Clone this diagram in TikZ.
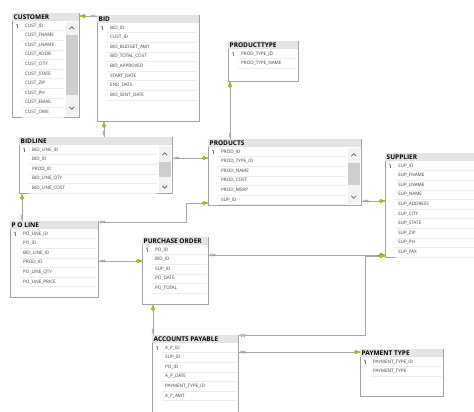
\documentclass[tikz,border=0pt]{standalone}
\usepackage{fontspec}
\setmainfont{Open Sans}
\usepackage{tikz}
\usetikzlibrary{decorations.markings, calc}

\definecolor{tblcol}{HTML}{A3A3A3}
\definecolor{headcol}{HTML}{E4E4E4}
\definecolor{rowcol}{HTML}{3C3C3C}
\definecolor{pkcol}{HTML}{7A7A6A}
\definecolor{sepcol}{HTML}{EDEDED}
\definecolor{relcol}{HTML}{A6A6A6}
\definecolor{keycol}{HTML}{C9C41A}
\definecolor{keydark}{HTML}{8E8A12}
\definecolor{manycol}{HTML}{8A8A8A}
\definecolor{thumbcol}{HTML}{CDCDCD}
\definecolor{trackcol}{HTML}{F3F3F3}

\begin{document}
\begin{tikzpicture}[x=1pt, y=-1pt,
    tbl/.style={draw=tblcol, line width=0.8pt, fill=white, anchor=north west, inner sep=0pt},
    tblhead/.style={anchor=base west, inner sep=0pt, font=\fontsize{6.5}{7}\selectfont\bfseries},
    tblrow/.style={anchor=west, inner sep=0pt, text=rowcol, font=\fontsize{4.6}{5}\selectfont},
    rowline/.style={draw=sepcol, line width=0.4pt},
    headbar/.style={fill=headcol},
    thumb/.style={fill=thumbcol},
    track/.style={fill=trackcol},
    chevron/.style={draw=rowcol, line width=0.5pt},
    rel/.style={draw=relcol, line width=0.9pt, postaction={decorate}, decoration={markings,
        mark=at position 4pt with {\fill[keycol] (-3.6pt,-0.8pt) rectangle (0pt,0.8pt);
          \filldraw[fill=keycol, draw=keydark, line width=0.3pt] (0pt,0pt) circle (1.9pt);},
        mark=at position -4pt with {\filldraw[fill=white, draw=manycol, line width=0.45pt]
          (-1.25pt,0pt) circle (1.15pt) (1.25pt,0pt) circle (1.15pt);}}},
    pics/pkey/.style={code={\draw[pkcol, line width=0.3pt] (0pt,1.2pt) circle (0.55pt);
        \draw[pkcol, line width=0.3pt] (0pt,0.65pt) -- (0pt,-1.5pt) (0pt,-1pt) -- (0.6pt,-1pt);}}
  ]
  \useasboundingbox (0,0) rectangle (474,412);

  % tables
  \node[tbl, minimum width=67pt, minimum height=104pt] (customer) at (12,13) {};
  \fill[headbar] ([shift={(0.4,0.4)}]customer.north west) rectangle ([shift={(-0.4,8)}]customer.north east);
  \node[tblhead] (customerhead) at ([shift={(1.5,6.5)}]customer.north west) {CUSTOMER};
  \pic at ([shift={(5,12.8)}]customer.north west) {pkey};
  \foreach \r [count=\i] in {CUST\_ID, CUST\_FNAME, CUST\_LNAME, CUST\_ADDR, CUST\_CITY,
      CUST\_STATE, CUST\_ZIP, CUST\_PH, CUST\_EMAIL, CUST\_OWE} {
    \node[tblrow] (customer\i) at ([shift={(13,{3.2+9.6*\i})}]customer.north west) {\r};
    \draw[rowline] ([shift={(10,{8+9.6*\i})}]customer.north west) -- ++(42,0);
  }
  \fill[track] ([shift={(-14,9)}]customer.north east) rectangle ++(12,94);
  \fill[thumb] ([shift={(-14,22)}]customer.north east) rectangle ++(12,60);
  \draw[chevron] ([shift={(-10.5,16.2)}]customer.north east) -- ++(2.5,-2.5) -- ++(2.5,2.5);
  \draw[chevron] ([shift={(-10.5,93.8)}]customer.north east) -- ++(2.5,2.5) -- ++(2.5,-2.5);

  \node[tbl, minimum width=102pt, minimum height=106pt] (bid) at (97,15) {};
  \fill[headbar] ([shift={(0.4,0.4)}]bid.north west) rectangle ([shift={(-0.4,8)}]bid.north east);
  \node[tblhead] (bidhead) at ([shift={(1.5,6.5)}]bid.north west) {BID};
  \pic at ([shift={(5,12.8)}]bid.north west) {pkey};
  \foreach \r [count=\i] in {BID\_ID, CUST\_ID, BID\_BUDGET\_AMT, BID\_TOTAL\_COST,
      BID\_APPROVED, START\_DATE, END\_DATE, BID\_SENT\_DATE} {
    \node[tblrow] (bid\i) at ([shift={(13,{3.2+9.6*\i})}]bid.north west) {\r};
    \draw[rowline] ([shift={(10,{8+9.6*\i})}]bid.north west) -- ++(90,0);
  }

  \node[tbl, minimum width=70pt, minimum height=40pt] (producttype) at (228,41) {};
  \fill[headbar] ([shift={(0.4,0.4)}]producttype.north west) rectangle ([shift={(-0.4,8)}]producttype.north east);
  \node[tblhead] (producttypehead) at ([shift={(1.5,6.5)}]producttype.north west) {PRODUCTTYPE};
  \pic at ([shift={(5,12.8)}]producttype.north west) {pkey};
  \foreach \r [count=\i] in {PROD\_TYPE\_ID, PROD\_TYPE\_NAME} {
    \node[tblrow] (producttype\i) at ([shift={(13,{3.2+9.6*\i})}]producttype.north west) {\r};
    \draw[rowline] ([shift={(10,{8+9.6*\i})}]producttype.north west) -- ++(59,0);
  }

  \node[tbl, minimum width=153pt, minimum height=56pt] (bidline) at (19,137) {};
  \fill[headbar] ([shift={(0.4,0.4)}]bidline.north west) rectangle ([shift={(-0.4,8)}]bidline.north east);
  \node[tblhead] (bidlinehead) at ([shift={(1.5,6.5)}]bidline.north west) {BIDLINE};
  \pic at ([shift={(5,12.8)}]bidline.north west) {pkey};
  \foreach \r [count=\i] in {BID\_LINE\_ID, BID\_ID, PROD\_ID, BID\_LINE\_QTY, BID\_LINE\_COST} {
    \node[tblrow] (bidline\i) at ([shift={(13,{3.2+9.6*\i})}]bidline.north west) {\r};
    \draw[rowline] ([shift={(10,{8+9.6*\i})}]bidline.north west) -- ++(128,0);
  }
  \fill[track] ([shift={(-14,9)}]bidline.north east) rectangle ++(12,46);
  \fill[thumb] ([shift={(-14,25)}]bidline.north east) rectangle ++(12,15);
  \draw[chevron] ([shift={(-10.5,18.2)}]bidline.north east) -- ++(2.5,-2.5) -- ++(2.5,2.5);
  \draw[chevron] ([shift={(-10.5,48.8)}]bidline.north east) -- ++(2.5,2.5) -- ++(2.5,-2.5);

  \node[tbl, minimum width=153pt, minimum height=66pt] (products) at (208,139) {};
  \fill[headbar] ([shift={(0.4,0.4)}]products.north west) rectangle ([shift={(-0.4,8)}]products.north east);
  \node[tblhead] (productshead) at ([shift={(1.5,6.5)}]products.north west) {PRODUCTS};
  \pic at ([shift={(5,12.8)}]products.north west) {pkey};
  \foreach \r [count=\i] in {PROD\_ID, PROD\_TYPE\_ID, PROD\_NAME, PROD\_COST, PROD\_MSRP, SUP\_ID} {
    \node[tblrow] (products\i) at ([shift={(13,{3.2+9.6*\i})}]products.north west) {\r};
    \draw[rowline] ([shift={(10,{8+9.6*\i})}]products.north west) -- ++(128,0);
  }
  \fill[track] ([shift={(-14,9)}]products.north east) rectangle ++(12,56);
  \fill[thumb] ([shift={(-14,24)}]products.north east) rectangle ++(12,22);
  \draw[chevron] ([shift={(-10.5,17.2)}]products.north east) -- ++(2.5,-2.5) -- ++(2.5,2.5);
  \draw[chevron] ([shift={(-10.5,56.8)}]products.north east) -- ++(2.5,2.5) -- ++(2.5,-2.5);

  \node[tbl, minimum width=95pt, minimum height=104pt] (supplier) at (385,153) {};
  \fill[headbar] ([shift={(0.4,0.4)}]supplier.north west) rectangle ([shift={(-0.4,8)}]supplier.north east);
  \node[tblhead] (supplierhead) at ([shift={(1.5,6.5)}]supplier.north west) {SUPPLIER};
  \pic at ([shift={(5,12.8)}]supplier.north west) {pkey};
  \foreach \r [count=\i] in {SUP\_ID, SUP\_FNAME, SUP\_LNAME, SUP\_NAME, SUP\_ADDRESS,
      SUP\_CITY, SUP\_STATE, SUP\_ZIP, SUP\_PH, SUP\_FAX} {
    \node[tblrow] (supplier\i) at ([shift={(13,{3.2+9.6*\i})}]supplier.north west) {\r};
    \draw[rowline] ([shift={(10,{8+9.6*\i})}]supplier.north west) -- ++(84,0);
  }

  \node[tbl, minimum width=88pt, minimum height=76pt] (poline) at (10,221) {};
  \fill[headbar] ([shift={(0.4,0.4)}]poline.north west) rectangle ([shift={(-0.4,8)}]poline.north east);
  \node[tblhead] (polinehead) at ([shift={(1.5,6.5)}]poline.north west) {P O LINE};
  \pic at ([shift={(5,12.8)}]poline.north west) {pkey};
  \foreach \r [count=\i] in {PO\_LINE\_ID, PO\_ID, BID\_LINE\_ID, PROD\_ID, PO\_LINE\_QTY, PO\_LINE\_PRICE} {
    \node[tblrow] (poline\i) at ([shift={(13,{3.2+9.6*\i})}]poline.north west) {\r};
    \draw[rowline] ([shift={(10,{8+9.6*\i})}]poline.north west) -- ++(77,0);
  }

  \node[tbl, minimum width=66pt, minimum height=67pt] (purchaseorder) at (142,237) {};
  \fill[headbar] ([shift={(0.4,0.4)}]purchaseorder.north west) rectangle ([shift={(-0.4,8)}]purchaseorder.north east);
  \node[tblhead] (purchaseorderhead) at ([shift={(1.5,6.5)}]purchaseorder.north west) {PURCHASE ORDER};
  \pic at ([shift={(5,12.8)}]purchaseorder.north west) {pkey};
  \foreach \r [count=\i] in {PO\_ID, BID\_ID, SUP\_ID, PO\_DATE, PO\_TOTAL} {
    \node[tblrow] (purchaseorder\i) at ([shift={(13,{3.2+9.6*\i})}]purchaseorder.north west) {\r};
    \draw[rowline] ([shift={(10,{8+9.6*\i})}]purchaseorder.north west) -- ++(55,0);
  }

  \node[tbl, minimum width=86pt, minimum height=81pt] (accountspayable) at (152,335) {};
  \fill[headbar] ([shift={(0.4,0.4)}]accountspayable.north west) rectangle ([shift={(-0.4,8)}]accountspayable.north east);
  \node[tblhead] (accountspayablehead) at ([shift={(1.5,6.5)}]accountspayable.north west) {ACCOUNTS PAYABLE};
  \pic at ([shift={(5,12.8)}]accountspayable.north west) {pkey};
  \foreach \r [count=\i] in {A\_P\_ID, SUP\_ID, PO\_ID, A\_P\_DATE, PAYMENT\_TYPE\_ID, A\_P\_AMT} {
    \node[tblrow] (accountspayable\i) at ([shift={(13,{3.2+9.6*\i})}]accountspayable.north west) {\r};
    \draw[rowline] ([shift={(10,{8+9.6*\i})}]accountspayable.north west) -- ++(75,0);
  }

  \node[tbl, minimum width=83pt, minimum height=47pt] (paymenttype) at (360,349) {};
  \fill[headbar] ([shift={(0.4,0.4)}]paymenttype.north west) rectangle ([shift={(-0.4,8)}]paymenttype.north east);
  \node[tblhead] (paymenttypehead) at ([shift={(1.5,6.5)}]paymenttype.north west) {PAYMENT TYPE};
  \pic at ([shift={(5,12.8)}]paymenttype.north west) {pkey};
  \foreach \r [count=\i] in {PAYMENT\_TYPE\_ID, PAYMENT\_TYPE} {
    \node[tblrow] (paymenttype\i) at ([shift={(13,{3.2+9.6*\i})}]paymenttype.north west) {\r};
    \draw[rowline] ([shift={(10,{8+9.6*\i})}]paymenttype.north west) -- ++(72,0);
  }

  % relationships, drawn from the key end to the many end
  \draw[rel] ([yshift=-3pt]customer.north east) coordinate (custkey) -- (custkey -| bid.west);
  \draw[rel] ([xshift=7pt]bid.south west) coordinate (bidkey) -- (bidkey |- bidline.north);
  \draw[rel] ([xshift=2pt]producttype.south west) coordinate (ptkey) -- (ptkey |- products.north);
  \draw[rel] ([yshift=-19pt]products.north west) coordinate (prodkey) -- (prodkey -| bidline.east);
  \draw[rel] ([yshift=-64pt]products.north west) -- ++(-22,0) |- ([yshift=-1pt]poline.north east);
  \draw[rel] ([xshift=3pt]bidline.south west) coordinate (blkey) -- (blkey |- poline.north);
  \draw[rel] ([yshift=-48pt]supplier.north west) coordinate (supkey) -- (supkey -| products.east);
  \draw[rel] ([yshift=-24pt]purchaseorder.north west) coordinate (pokey) -- (pokey -| poline.east);
  \draw[rel] ([yshift=-102pt]supplier.north west) coordinate (supkeytwo) -- (supkeytwo -| purchaseorder.east);
  \draw[rel] ([yshift=-103pt]supplier.north west) -- ++(-20,0) |- ([yshift=-0.5pt]accountspayable.north east);
  \draw[rel] ([xshift=11pt]purchaseorder.south west) coordinate (pokeytwo) -- (pokeytwo |- accountspayable.north);
  \draw[rel] ([yshift=-3pt]paymenttype.north west) coordinate (paykey) -- (paykey -| accountspayable.east);
\end{tikzpicture}
\end{document}
